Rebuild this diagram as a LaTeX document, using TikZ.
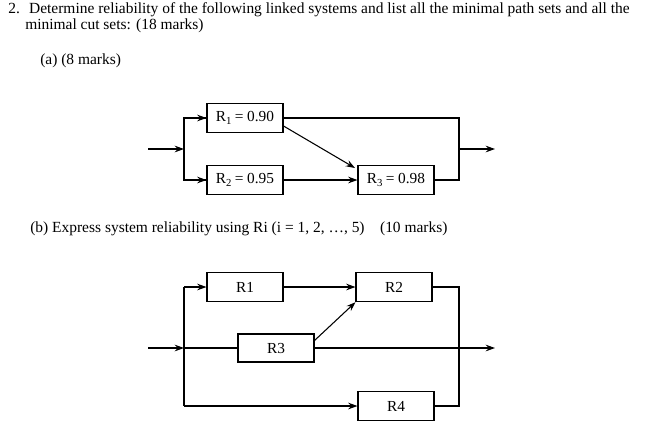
\documentclass[tikz,border=0pt]{standalone}
\usepackage{fontspec}
\setmainfont{Liberation Serif}
\usetikzlibrary{arrows.meta}
\begin{document}
\begin{tikzpicture}[x=0.75pt,y=-0.75pt,
  box/.style={draw,line width=0.8pt,inner sep=0pt,font=\fontsize{11.5}{13}\selectfont},
  wire/.style={line width=0.8pt},
  arr/.style={wire,-{Stealth[length=7pt,width=5pt,inset=2.5pt]}},
  txt/.style={anchor=west,inner sep=0pt,font=\fontsize{11.6}{14}\selectfont}]
\useasboundingbox (0,0) rectangle (660,430);
\node[txt] (t1) at (8,10) {2.\hspace{0.6em}Determine reliability of the following linked systems and list all the minimal path sets and all the};
\node[txt] (t2) at (25,26) {minimal cut sets: (18 marks)};
\node[txt] (t3) at (40,61) {(a) (8 marks)};
\node[txt] (t4) at (30,229) {(b) Express system reliability using Ri (i = 1, 2, \dots, 5)\quad (10 marks)};
% part a
\node[box,minimum width=57pt,minimum height=22pt] (a1) at (245,118) {R\textsubscript{1}\,= 0.90};
\node[box,minimum width=57pt,minimum height=22pt] (a2) at (245,180) {R\textsubscript{2}\,= 0.95};
\node[box,minimum width=57pt,minimum height=22pt] (a3) at (396,180) {R\textsubscript{3}\,= 0.98};
\coordinate (ain) at (148,149);
\coordinate (as) at (184,149);
\coordinate (aout) at (459,149);
\coordinate (aend) at (495,149);
\draw[arr] (ain) -- (as);
\draw[wire] (as) |- (a1.west);
\draw[arr] (as |- a1.west) -- (a1.west);
\draw[wire] (as) |- (a2.west);
\draw[arr] (as |- a2.west) -- (a2.west);
\draw[arr] (a2.east) -- (a3.west);
\draw[arr] (a1.east |- 0,126) -- (355,168);
\draw[wire] (a1.east) -| (aout) |- (a3.east);
\draw[arr] (aout) -- (aend);
% part b
\node[box,minimum width=57pt,minimum height=22pt] (b1) at (245,287) {R1};
\node[box,minimum width=57pt,minimum height=22pt] (b2) at (394,287) {R2};
\node[box,minimum width=57pt,minimum height=21pt] (b3) at (276,348) {R3};
\node[box,minimum width=57pt,minimum height=22pt] (b4) at (396,406) {R4};
\coordinate (bin) at (148,348);
\coordinate (bs) at (184,348);
\coordinate (bo) at (459,348);
\coordinate (bend) at (495,348);
\draw[arr] (bin) -- (bs);
\draw[wire] (bs) -- (b3.west);
\draw[arr] (b3.east) -- (bend);
\draw[wire] (b1.west -| bs) -- (bs |- b4.west);
\draw[arr] (b1.west -| bs) -- (b1.west);
\draw[arr] (bs |- b4.west) -- (b4.west);
\draw[arr] (b1.east) -- (b2.west);
\draw[arr] (b3.north east) ++(0,7) -- (b2.south west);
\draw[wire] (b2.east) -| (bo |- b4.east) -- (b4.east);
\end{tikzpicture}
\end{document}
